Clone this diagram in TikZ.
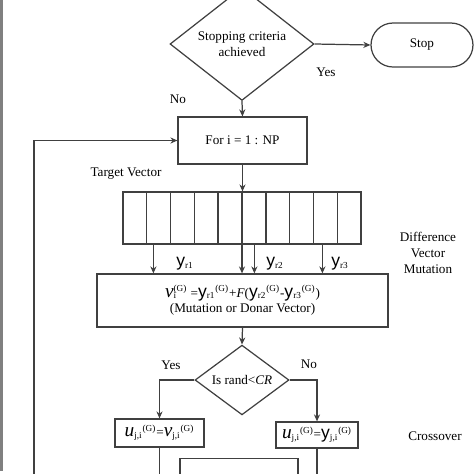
\documentclass[tikz,border=0pt]{standalone}
\usepackage{fontspec}
\setmainfont{Liberation Serif}
\newfontfamily\ysans{Liberation Sans}
\usetikzlibrary{arrows.meta,positioning,shapes.geometric,calc}

\newcommand{\yy}{{\ysans\fontsize{10}{10}\selectfont y}}
\newcommand{\subsup}[2]{\rlap{\textsubscript{#1}}\textsuperscript{#2}}
\newcommand{\bigit}[1]{{\fontsize{11}{11}\selectfont\itshape #1}}

\begin{document}
\begin{tikzpicture}[
  x=0.02cm, y=-0.02cm,
  line/.style={draw=black!75, line width=0.7pt},
  box/.style={line, rectangle, align=center, inner sep=0pt,
              font=\fontsize{7.5}{9}\selectfont},
  dec/.style={line, diamond, align=center, inner sep=0pt,
              font=\fontsize{7.5}{9}\selectfont},
  term/.style={line, rectangle, rounded corners=0.44cm,
               font=\fontsize{7.5}{9}\selectfont},
  lbl/.style={inner sep=0pt, align=center, font=\fontsize{7.5}{9}\selectfont},
  arr/.style={line, -{Stealth[length=4pt,width=3.5pt]}}
]
\useasboundingbox (0,0) rectangle (474,474);
\clip (0,0) rectangle (474,474);
\fill[black!50] (0,0) rectangle (3,471);

% top decision and stop
\node[dec, minimum width=2.88cm, minimum height=2.16cm] (stopq) at (242,44) {Stopping criteria\\achieved};
\node[term, minimum width=2.04cm, minimum height=0.88cm] (stop) at (422,45) {Stop};
\node[box, minimum width=2.58cm, minimum height=0.94cm] (loop) at (242.5,140.5) {For i = 1 : NP};

% target vector
\node[box, minimum width=4.76cm, minimum height=1.04cm] (vec) at (242,218) {};
\foreach \k in {1,...,9}
  \draw[line] ($(vec.north west)!\k/10!(vec.north east)$) -- ($(vec.south west)!\k/10!(vec.south east)$);
\node[lbl] (tv) at (126,174) {Target Vector};

% mutation
\node[box, minimum width=5.82cm, minimum height=1.06cm] (mut) at (242.5,300.5)
  {\bigit{v}\subsup{i}{(G)} =\yy\textsubscript{r1}\textsuperscript{(G)}+\textit{F}(\yy\textsubscript{r2}\textsuperscript{(G)}-\yy\textsubscript{r3}\textsuperscript{(G)})\\(Mutation or Donar Vector)};
\node[lbl] (y1) at (185,264) {\yy\textsubscript{r1}};
\node[lbl] (y2) at (275,264) {\yy\textsubscript{r2}};
\node[lbl] (y3) at (340,264) {\yy\textsubscript{r3}};
\node[lbl] (dvm) at (428,253) {Difference\\Vector\\Mutation};

% crossover
\node[dec, minimum width=1.88cm, minimum height=1.08cm] (cr) at (242,380) {Is rand<\textit{CR}};
\node[box, minimum width=1.78cm, minimum height=0.56cm] (ul) at (159.5,433)
  {\bigit{u}\textsubscript{j,i}\textsuperscript{(G)}=\bigit{v}\textsubscript{j,i}\textsuperscript{(G)}};
\node[box, minimum width=1.64cm, minimum height=0.52cm] (ur) at (317,435)
  {\bigit{u}\textsubscript{j,i}\textsuperscript{(G)}=\yy\textsubscript{j,i}\textsuperscript{(G)}};
\node[box, minimum width=2.36cm, minimum height=1cm, anchor=north] (nxt) at (239,458) {};
\node[lbl] (cross) at (435,436) {Crossover};

% labels
\node[lbl] (yes1) at (326,72) {Yes};
\node[lbl] (no1) at (178,99) {No};
\node[lbl] (yes2) at (171,365) {Yes};
\node[lbl] (no2) at (309,364) {No};

% connectors
\draw[arr] (stopq.east) -- (stop.west);
\draw[arr] (stopq.south) -- (loop.north);
\draw[arr] (loop.south) -- (loop.south |- vec.north);
\draw[arr] (vec.south) -- (vec.south |- mut.north);
\foreach \dx in {31,132,200} {
  \path (vec.south west) ++(\dx,0) coordinate (t\dx);
  \draw[arr] (t\dx) -- (t\dx |- mut.north);
}
\draw[arr] (mut.south) -- (cr.north);
\draw[arr] (cr.west) -| (ul.north);
\draw[arr] (cr.east) -| (ur.north);
\draw[line] (ul.south) -- ++(0,40);
\draw[line] (ur.south) -- ++(0,40);
\coordinate (back) at (34,480);
\draw[arr] (back) |- (loop.west);
\end{tikzpicture}
\end{document}
